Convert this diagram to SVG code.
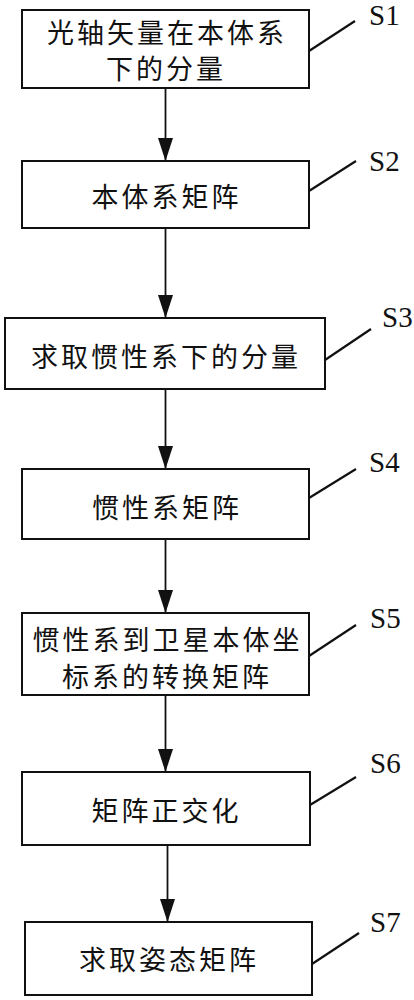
<svg xmlns="http://www.w3.org/2000/svg" width="414" height="1000" viewBox="0 0 414 1000">
<style>
.box{fill:#fff;stroke:#111;stroke-width:2}
.t{font-family:"Noto Sans CJK SC","Noto Sans",sans-serif;font-size:27px;fill:#111;text-anchor:middle;dominant-baseline:central;letter-spacing:3px}
.lbl{font-family:"Liberation Serif",serif;font-size:29px;fill:#111}
.conn{stroke:#111;stroke-width:1.8;fill:none}
.lead{stroke:#111;stroke-width:2.2;fill:none}
</style>
<defs>
<marker id="ah" markerUnits="userSpaceOnUse" markerWidth="23" markerHeight="15" refX="23" refY="7.5" orient="auto">
<path d="M0,0 L23,7.5 L0,15 z" fill="#111"/>
</marker>
</defs>
<rect width="414" height="1000" fill="#fff"/>
<g id="connectors">
<line class="conn" x1="165.5" y1="88" x2="165.5" y2="161" marker-end="url(#ah)"/>
<line class="conn" x1="165.5" y1="228" x2="165.5" y2="318" marker-end="url(#ah)"/>
<line class="conn" x1="165.5" y1="389" x2="165.5" y2="469" marker-end="url(#ah)"/>
<line class="conn" x1="165.5" y1="539" x2="165.5" y2="613" marker-end="url(#ah)"/>
<line class="conn" x1="165.5" y1="695" x2="165.5" y2="772" marker-end="url(#ah)"/>
<line class="conn" x1="167.5" y1="845" x2="167.5" y2="922" marker-end="url(#ah)"/>
<line class="lead" x1="309" y1="51" x2="355" y2="21"/>
<line class="lead" x1="309" y1="191" x2="356" y2="161"/>
<line class="lead" x1="325" y1="360" x2="371" y2="329"/>
<line class="lead" x1="309" y1="498" x2="356" y2="469"/>
<line class="lead" x1="309" y1="656" x2="356" y2="625"/>
<line class="lead" x1="310" y1="805" x2="356" y2="777"/>
<line class="lead" x1="312" y1="964" x2="359" y2="933"/>
</g>
<g id="S1">
<rect class="box" x="22" y="10" width="287" height="78"/>
<text class="t" x="167" y="31">光轴矢量在本体系</text>
<text class="t" x="166" y="67">下的分量</text>
<text class="lbl" x="369" y="25">S1</text>
</g>
<g id="S2">
<rect class="box" x="22" y="161" width="287" height="67"/>
<text class="t" x="166.5" y="195">本体系矩阵</text>
<text class="lbl" x="369" y="171">S2</text>
</g>
<g id="S3">
<rect class="box" x="5" y="318" width="320" height="71"/>
<text class="t" x="166" y="355">求取惯性系下的分量</text>
<text class="lbl" x="382" y="327">S3</text>
</g>
<g id="S4">
<rect class="box" x="22" y="469" width="287" height="70"/>
<text class="t" x="167" y="506">惯性系矩阵</text>
<text class="lbl" x="369" y="472">S4</text>
</g>
<g id="S5">
<rect class="box" x="22" y="613" width="287" height="82"/>
<text class="t" x="167.5" y="638">惯性系到卫星本体坐</text>
<text class="t" x="167" y="675">标系的转换矩阵</text>
<text class="lbl" x="370" y="628">S5</text>
</g>
<g id="S6">
<rect class="box" x="22" y="772" width="288" height="73"/>
<text class="t" x="166.5" y="809">矩阵正交化</text>
<text class="lbl" x="370" y="773">S6</text>
</g>
<g id="S7">
<rect class="box" x="25" y="922" width="287" height="73"/>
<text class="t" x="169" y="958">求取姿态矩阵</text>
<text class="lbl" x="370" y="932">S7</text>
</g>
</svg>
